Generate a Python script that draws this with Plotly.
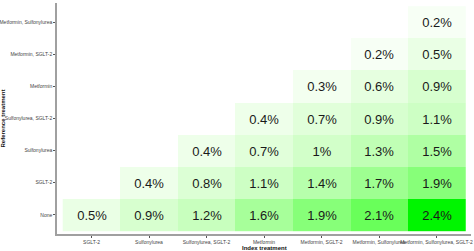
import plotly.graph_objects as go

index_treatments = ["SGLT-2", "Sulfonylurea", "Sulfonylurea, SGLT-2", "Metformin",
                    "Metformin, SGLT-2", "Metformin, Sulfonylurea",
                    "Metformin, Sulfonylurea, SGLT-2"]
reference_treatments = ["None", "SGLT-2", "Sulfonylurea", "Sulfonylurea, SGLT-2",
                        "Metformin", "Metformin, SGLT-2", "Metformin, Sulfonylurea"]

row_none = [0.5, 0.9, 1.2, 1.6, 1.9, 2.1, 2.4]
row_sglt2 = [None, 0.4, 0.8, 1.1, 1.4, 1.7, 1.9]
row_sulf = [None, None, 0.4, 0.7, 1.0, 1.3, 1.5]
row_sulf_sglt2 = [None, None, None, 0.4, 0.7, 0.9, 1.1]
row_met = [None, None, None, None, 0.3, 0.6, 0.9]
row_met_sglt2 = [None, None, None, None, None, 0.2, 0.5]
row_met_sulf = [None, None, None, None, None, None, 0.2]

z = [row_none, row_sglt2, row_sulf, row_sulf_sglt2, row_met, row_met_sglt2, row_met_sulf]


def fmt(v):
    if v is None:
        return ""
    s = ("%.1f" % v).rstrip("0").rstrip(".")
    return s + "%"


text = [[fmt(v) for v in row] for row in z]

colorscale = [
    [0.0, "rgb(255,255,255)"],
    [0.25, "rgb(230,255,224)"],
    [0.5, "rgb(200,255,190)"],
    [0.75, "rgb(150,255,136)"],
    [0.875, "rgb(105,255,90)"],
    [1.0, "rgb(0,245,0)"],
]

fig = go.Figure(go.Heatmap(
    x=index_treatments,
    y=reference_treatments,
    z=z,
    text=text,
    texttemplate="%{text}",
    textfont=dict(family="Liberation Sans, Arial", size=13, color="#1a1a1a"),
    colorscale=colorscale,
    zmin=0,
    zmax=2.4,
    showscale=False,
    hoverongaps=False,
))

axis_common = dict(
    showgrid=False,
    zeroline=False,
    showline=True,
    linecolor="#a0a0a0",
    linewidth=1.5,
    ticks="outside",
    ticklen=2,
    tickcolor="#555555",
    tickangle=0,
    tickfont=dict(family="Liberation Sans, Arial", size=5, color="#444444"),
)

fig.update_layout(
    width=474,
    height=251,
    margin=dict(l=57, r=3, t=3, b=17),
    plot_bgcolor="white",
    paper_bgcolor="white",
    xaxis=dict(
        **axis_common,
        type="category",
        range=[-0.6, 6.6],
        automargin=False,
    ),
    yaxis=dict(
        **axis_common,
        type="category",
        range=[-0.6, 6.6],
        automargin=False,
        title=dict(text="<b>Reference treatment</b>",
                   font=dict(family="Liberation Sans, Arial", size=6, color="#111111"),
                   standoff=2),
    ),
    annotations=[dict(
        text="<b>Index treatment</b>",
        xref="paper", yref="paper", x=0.5, y=0,
        xanchor="center", yanchor="middle", yshift=-14,
        showarrow=False,
        font=dict(family="Liberation Sans, Arial", size=6, color="#111111"),
    )],
)

fig.write_html("out.html")
